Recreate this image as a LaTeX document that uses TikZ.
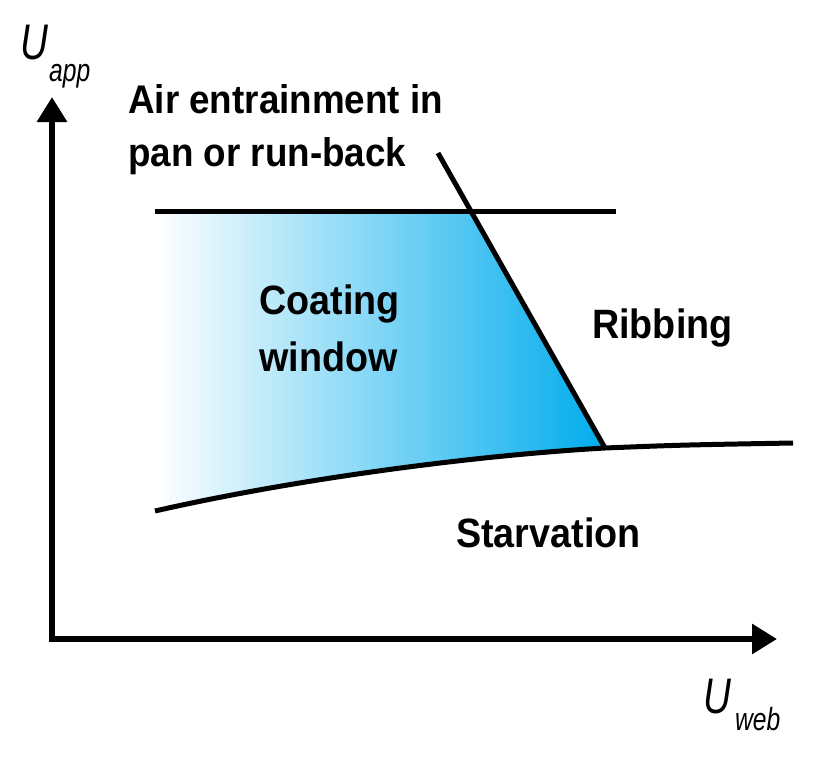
\documentclass[tikz,border=0pt]{standalone}
\usepackage{fontspec}
\setmainfont{Liberation Sans}
\newfontfamily\labelfont[FakeStretch=0.92]{Liberation Sans}
\newfontfamily\axisfont[FakeStretch=0.77]{Liberation Sans}
\usetikzlibrary{arrows.meta}
\definecolor{windowblue}{RGB}{0,172,236}

\begin{document}
\begin{tikzpicture}[x=1bp, y=-1bp,
  region/.style={font=\labelfont\fontsize{40bp}{53bp}\selectfont\bfseries, inner sep=0pt, align=left},
  bigregion/.style={region, font=\labelfont\fontsize{41bp}{57bp}\selectfont\bfseries},
  axislabel/.style={font=\axisfont\itshape\fontsize{50bp}{50bp}\selectfont, inner sep=0pt},
  sublabel/.style={font=\axisfont\itshape\fontsize{32bp}{32bp}\selectfont, inner sep=0pt},
  boundary/.style={line width=5bp}]

\useasboundingbox (0,0) rectangle (834,766);

% Points of the operating diagram
\coordinate (origin) at (52,639);
\coordinate (yend) at (52,97);
\coordinate (xend) at (777,639);
\coordinate (topleft) at (155,211);
\coordinate (topright) at (616,211);
\coordinate (slanttop) at (438,153);
\coordinate (corner) at (605,448);
\coordinate (botleft) at (155,511);
\coordinate (botright) at (793,443);
\coordinate (cross) at (intersection of slanttop--corner and topleft--topright);

% Shade the coating window
\shade[left color=white, middle color=windowblue!55!white, right color=windowblue]
  (topleft) -- (cross) -- (corner) .. controls (480,455) and (300,478) .. (botleft) -- cycle;

% Draw axes
\draw[line width=6bp, {Triangle[length=25bp,width=29bp]}-{Triangle[length=25bp,width=29bp]}]
  (yend) |- (xend);

% Window boundaries
\draw[boundary] (topleft) -- (topright);
\draw[boundary] (slanttop) -- (corner);
\draw[boundary] (botleft) .. controls (300,478) and (480,455) .. (corner)
  .. controls (680,445) .. (botright);

% Region labels
\node[region, anchor=north west] (air) at (128,84) {Air entrainment in\\pan or run-back};
\node[bigregion, anchor=north west] (window) at (259,285) {Coating\\window};
\node[bigregion, anchor=base west] (ribbing) at (592,338) {Ribbing};
\node[bigregion, anchor=base west] (starvation) at (456,547) {Starvation};

% Axis labels
\node[axislabel, anchor=base west] (uapp) at (20,60) {U};
\node[sublabel, anchor=base west] (app) at (49,82) {app};
\node[axislabel, anchor=base west] (uweb) at (703,713) {U};
\node[sublabel, anchor=base west] (web) at (735,730) {web};

\end{tikzpicture}
\end{document}
